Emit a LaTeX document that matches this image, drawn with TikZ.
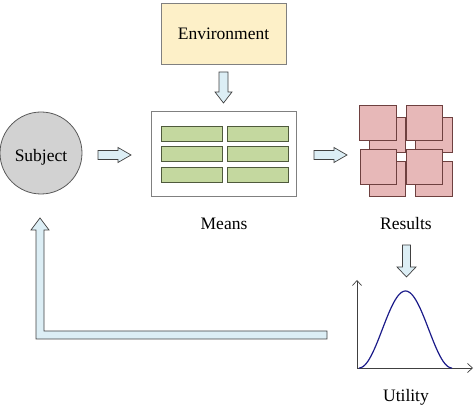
\documentclass[tikz,border=0pt]{standalone}
\usepackage{fontspec}
\setmainfont{Liberation Serif}
\usetikzlibrary{arrows.meta}
\definecolor{envfill}{HTML}{FDF0C8}
\definecolor{boxline}{HTML}{808080}
\definecolor{barfill}{HTML}{C4D89F}
\definecolor{barline}{HTML}{4F5A3C}
\definecolor{arrowfill}{HTML}{DCEEF5}
\definecolor{arrowline}{HTML}{404040}
\definecolor{subjfill}{HTML}{D2D2D2}
\definecolor{subjline}{HTML}{5A5A5A}
\definecolor{resfill}{HTML}{E7B8B8}
\definecolor{resline}{HTML}{6E403F}
\definecolor{curveblue}{HTML}{1C1C8A}
\begin{document}
\begin{tikzpicture}[x=1pt,y=1pt,
  every node/.style={font=\fontsize{17.5}{21}\selectfont},
  envbox/.style={draw=boxline, fill=envfill, line width=0.8pt, minimum width=125pt, minimum height=61pt, inner sep=0pt},
  meansbox/.style={draw=boxline, fill=white, line width=0.8pt, minimum width=145pt, minimum height=85pt, inner sep=0pt},
  subjectnode/.style={circle, draw=subjline, fill=subjfill, line width=0.8pt, minimum size=82pt, inner sep=0pt, text height=17.4pt, text depth=0pt},
  bar/.style={draw=barline, fill=barfill, line width=0.8pt},
  square/.style={draw=resline, fill=resfill, line width=0.8pt},
  blockarrow/.style={draw=arrowline, fill=arrowfill, line width=0.7pt, line join=miter},
  axis/.style={draw=arrowline, line width=0.7pt},
  curve/.style={draw=curveblue, line width=1.2pt}]
\useasboundingbox (0.000000,0.000000) rectangle (474.000000,409.000000);
% Drawing boxes
\node[envbox] (env) at (223.500000,375.500000) {Environment};
\node[meansbox] (means) at (223.500000,255.500000) {};
\node[subjectnode] (subject) at (41.000000,256.000000) {Subject};
% Bars inside the means box
\draw[bar] (161.000000,283.000000) rectangle (222.000000,268.000000);
\draw[bar] (227.000000,283.000000) rectangle (288.000000,268.000000);
\draw[bar] (161.000000,263.000000) rectangle (222.000000,248.000000);
\draw[bar] (227.000000,263.000000) rectangle (288.000000,248.000000);
\draw[bar] (161.000000,242.000000) rectangle (222.000000,227.000000);
\draw[bar] (227.000000,242.000000) rectangle (288.000000,227.000000);
% Results squares: back one first, then front one
\draw[square] (369.000000,292.000000) rectangle (405.000000,257.000000);
\draw[square] (359.000000,304.000000) rectangle (396.000000,269.000000);
\draw[square] (415.000000,292.000000) rectangle (452.000000,257.000000);
\draw[square] (406.000000,304.000000) rectangle (442.000000,269.000000);
\draw[square] (369.000000,248.000000) rectangle (405.000000,213.000000);
\draw[square] (360.000000,260.000000) rectangle (396.000000,225.000000);
\draw[square] (415.000000,248.000000) rectangle (452.000000,213.000000);
\draw[square] (406.000000,260.000000) rectangle (442.000000,225.000000);
% Labels
\node[anchor=base] (meanslabel) at (224.000000,179.000000) {Means};
\node[anchor=base] (resultslabel) at (406.000000,179.000000) {Results};
\node[anchor=base] (utilitylabel) at (406.000000,7.500000) {Utility};
% Drawing block arrows
% Subject to means
\draw[blockarrow] (98.000000,249.500000) -- (118.000000,249.500000) -- (118.000000,246.500000) -- (131.000000,254.000000) -- (118.000000,261.500000) -- (118.000000,258.500000) -- (98.000000,258.500000) -- cycle;
% Means to results
\draw[blockarrow] (314.000000,249.500000) -- (334.000000,249.500000) -- (334.000000,246.500000) -- (347.000000,254.000000) -- (334.000000,261.500000) -- (334.000000,258.500000) -- (314.000000,258.500000) -- cycle;
% Environment to means
\draw[blockarrow] (219.000000,337.000000) -- (219.000000,317.000000) -- (215.000000,317.000000) -- (223.500000,306.000000) -- (232.000000,317.000000) -- (228.000000,317.000000) -- (228.000000,337.000000) -- cycle;
% Results to utility
\draw[blockarrow] (402.500000,164.000000) -- (402.500000,142.000000) -- (397.000000,142.000000) -- (406.500000,132.000000) -- (416.000000,142.000000) -- (410.500000,142.000000) -- (410.500000,164.000000) -- cycle;
% Feedback arrow back to the subject
\draw[blockarrow] (327.000000,78.000000) -- (44.000000,78.000000) -- (44.000000,179.000000) -- (49.000000,179.000000) -- (40.000000,191.000000) -- (31.000000,179.000000) -- (36.000000,179.000000) -- (36.000000,70.000000) -- (327.000000,70.000000) -- cycle;
% Utility plot
\coordinate (ytop) at (357.000000,129.000000);
\coordinate (origin) at (357.000000,41.000000);
\coordinate (xend) at (473.000000,41.000000);
\draw[axis, {Straight Barb[length=5pt,width=9pt]}-{Straight Barb[length=5pt,width=9pt]}] (ytop) -- (origin) -- (xend);
\draw[curve] plot[domain=0:360, samples=73] ({359+0.258333*\x},{41+38.5*(1-cos(\x))});
% Done
\end{tikzpicture}
\end{document}
